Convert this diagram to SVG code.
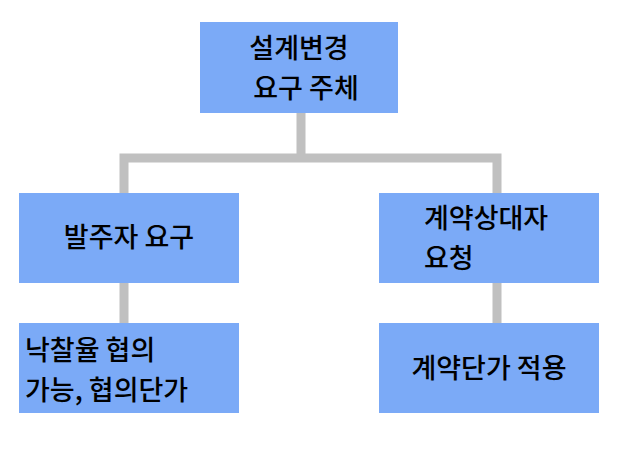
<svg xmlns="http://www.w3.org/2000/svg" width="621" height="451" viewBox="0 0 621 451">
<style>
.b{fill:#7BAAF7}
.t{font-family:"Noto Sans CJK KR",sans-serif;font-size:27px;font-weight:500;fill:#000}
.c{stroke:#C0C0C0;stroke-width:9;fill:none}
</style>
<rect width="621" height="451" fill="#fff"/>
<g id="connectors">
<path class="c" d="M301 113V158M124 196V158H497V196M124 283V323M497 283V323"/>
</g>
<g id="n1"><rect class="b" x="200" y="22" width="198" height="91"/>
<text class="t" x="299" y="58" text-anchor="middle">설계변경</text>
<text class="t" x="306" y="98" text-anchor="middle">요구 주체</text></g>
<g id="n2"><rect class="b" x="19" y="193" width="220" height="90"/>
<text class="t" x="129" y="247" text-anchor="middle">발주자 요구</text></g>
<g id="n3"><rect class="b" x="379" y="193" width="220" height="90"/>
<text class="t" x="424" y="228">계약상대자</text>
<text class="t" x="424" y="268">요청</text></g>
<g id="n4"><rect class="b" x="19" y="323" width="220" height="90"/>
<text class="t" x="25" y="360">낙찰율 협의</text>
<text class="t" x="25" y="400">가능, 협의단가</text></g>
<g id="n5"><rect class="b" x="379" y="323" width="220" height="90"/>
<text class="t" x="489" y="378" text-anchor="middle">계약단가 적용</text></g>
</svg>
